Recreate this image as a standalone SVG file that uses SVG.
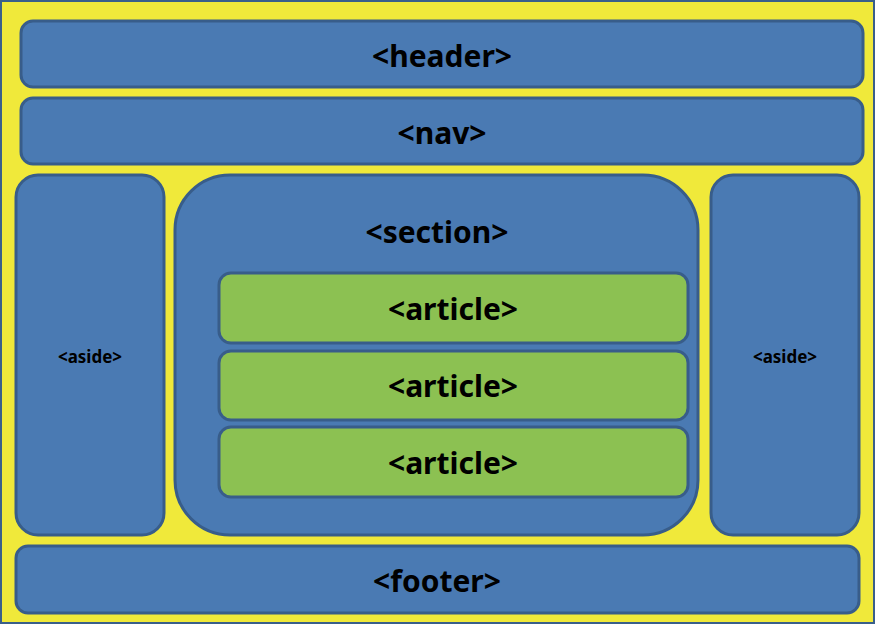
<svg xmlns="http://www.w3.org/2000/svg" width="875" height="624" viewBox="0 0 875 624">
<style>
.b{fill:#4a7ab3;stroke:#385d8a;stroke-width:3}
.g{fill:#8cc152;stroke:#385d8a;stroke-width:3}
text{font-family:"Noto Sans","DejaVu Sans",sans-serif;font-weight:bold;fill:#000;text-anchor:middle;dominant-baseline:central}
.l{font-size:30px}.s{font-size:17px}
</style>
<rect x="1" y="1" width="873" height="622" fill="#f0e93a" stroke="#3a5f8a" stroke-width="2"/>
<g id="header"><rect class="b" x="21" y="21" width="842" height="66" rx="12"/><text class="l" x="442" y="55">&lt;header&gt;</text></g>
<g id="nav"><rect class="b" x="21" y="98" width="842" height="66" rx="12"/><text class="l" x="442" y="132">&lt;nav&gt;</text></g>
<g id="aside1"><rect class="b" x="16" y="175" width="148" height="360" rx="22"/><text class="s" x="90" y="356">&lt;aside&gt;</text></g>
<g id="section"><rect class="b" x="175" y="175" width="523" height="360" rx="55"/><text class="l" x="437" y="231">&lt;section&gt;</text></g>
<g id="article1"><rect class="g" x="219" y="273" width="469" height="70" rx="12"/><text class="l" x="453" y="308">&lt;article&gt;</text></g>
<g id="article2"><rect class="g" x="219" y="351" width="469" height="69" rx="12"/><text class="l" x="453" y="385">&lt;article&gt;</text></g>
<g id="article3"><rect class="g" x="219" y="427" width="469" height="70" rx="12"/><text class="l" x="453" y="462">&lt;article&gt;</text></g>
<g id="aside2"><rect class="b" x="711" y="175" width="148" height="360" rx="22"/><text class="s" x="785" y="356">&lt;aside&gt;</text></g>
<g id="footer"><rect class="b" x="16" y="546" width="843" height="67" rx="12"/><text class="l" x="437" y="580">&lt;footer&gt;</text></g>
<g id="connectors"/>
</svg>
